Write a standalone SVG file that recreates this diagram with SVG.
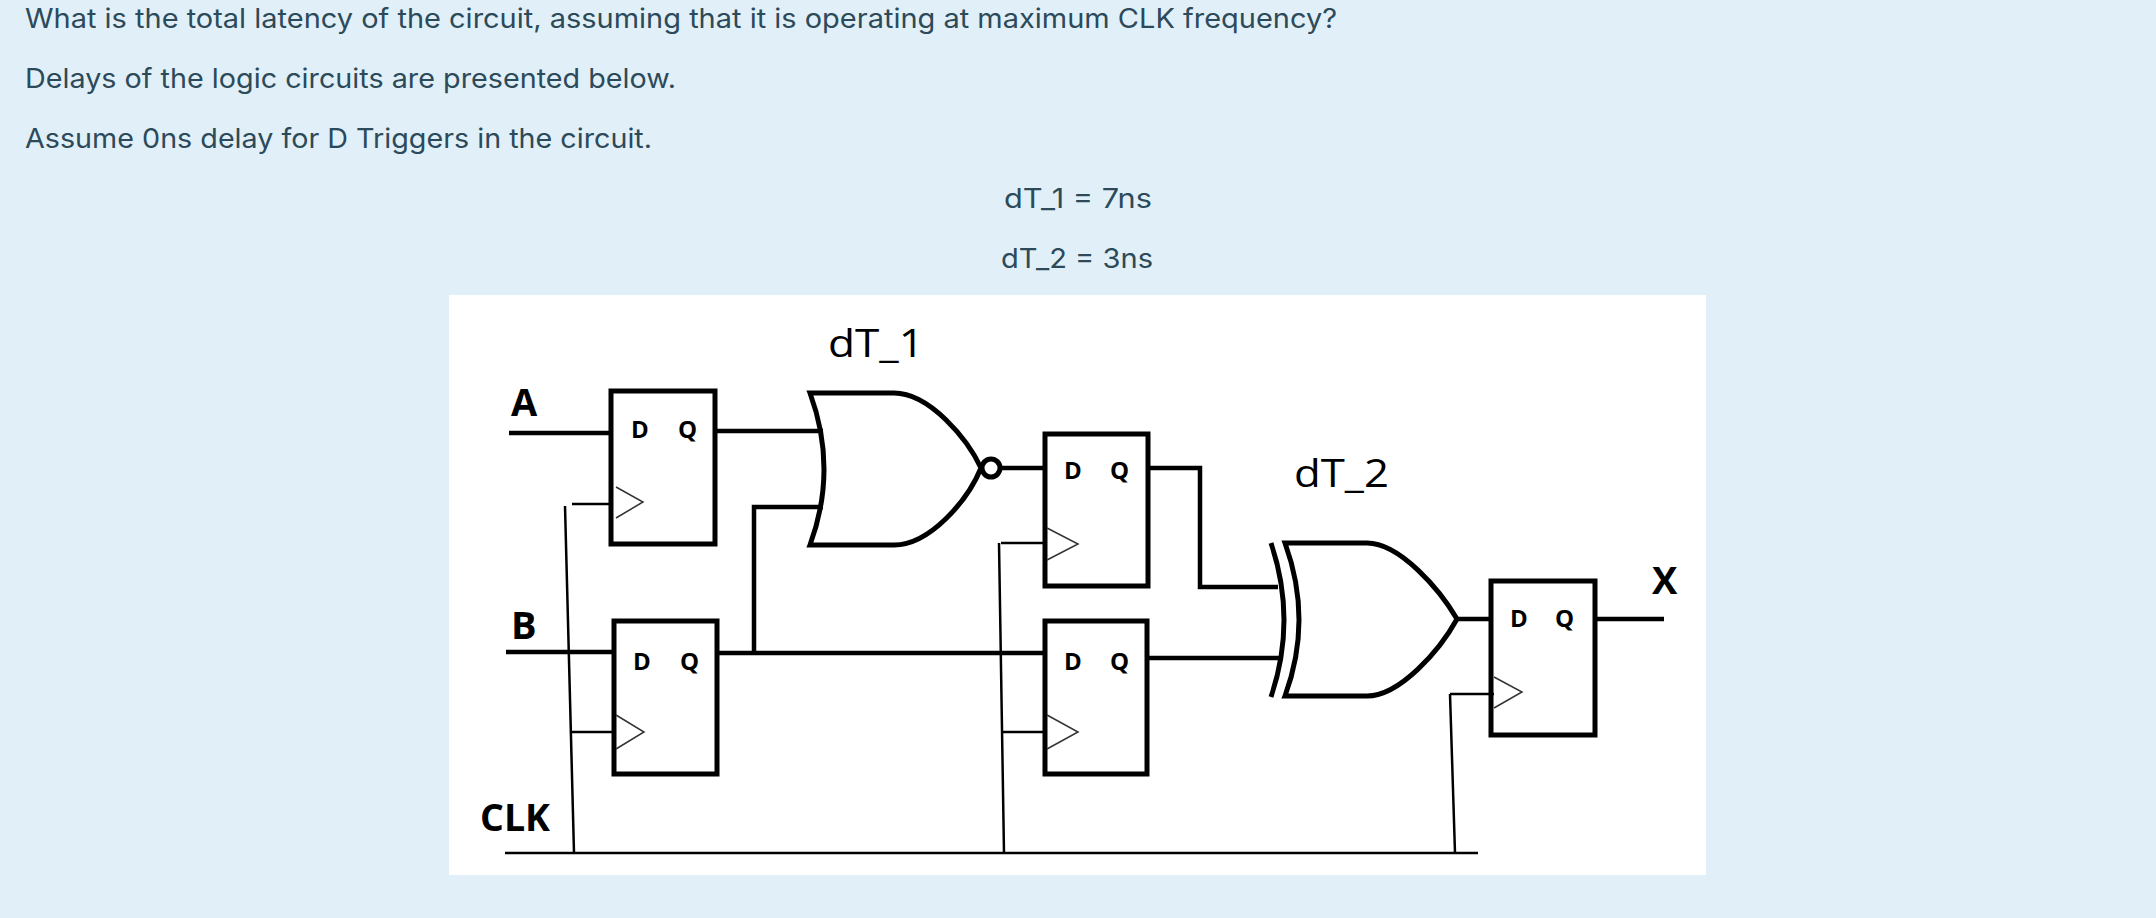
<svg xmlns="http://www.w3.org/2000/svg" width="2156" height="918" viewBox="0 0 2156 918">
<style>
.q{font-family:Inter,"Liberation Sans",sans-serif;font-size:27px;fill:#2c4a5a}
.lbl{font-family:"Open Sans","Liberation Sans",sans-serif;font-size:38px;fill:#000}
.big{font-family:"Open Sans","Liberation Sans",sans-serif;font-weight:bold;font-size:38px;fill:#000}
.dq{font-family:"Open Sans","Liberation Sans",sans-serif;font-weight:bold;font-size:24px;fill:#000}
.ff{fill:none;stroke:#000;stroke-width:5}
.w{fill:none;stroke:#000;stroke-width:4.5}
.thin{fill:none;stroke:#000;stroke-width:2.5}
.tri{fill:none;stroke:#333;stroke-width:1.5}
.g{fill:none;stroke:#000;stroke-width:5}
</style>
<rect width="2156" height="918" fill="#e1f0f8"/>
<text class="q" x="25" y="28" textLength="1312" lengthAdjust="spacingAndGlyphs">What is the total latency of the circuit, assuming that it is operating at maximum CLK frequency?</text>
<text class="q" x="25" y="88" textLength="651" lengthAdjust="spacingAndGlyphs">Delays of the logic circuits are presented below.</text>
<text class="q" x="25" y="148" textLength="627" lengthAdjust="spacingAndGlyphs">Assume 0ns delay for D Triggers in the circuit.</text>
<text class="q" x="1004" y="208" textLength="148" lengthAdjust="spacingAndGlyphs">dT_1 = 7ns</text>
<text class="q" x="1001" y="268" textLength="152" lengthAdjust="spacingAndGlyphs">dT_2 = 3ns</text>
<rect x="449" y="295" width="1257" height="580" fill="#fff"/>
<g id="labels">
<text class="lbl" x="828" y="357" textLength="96" lengthAdjust="spacingAndGlyphs">dT_1</text>
<text class="lbl" x="1294" y="487" textLength="95" lengthAdjust="spacingAndGlyphs">dT_2</text>
<text class="big" x="511" y="416">A</text>
<text class="big" x="511" y="639">B</text>
<text class="big" x="480" y="831" textLength="70" lengthAdjust="spacingAndGlyphs">CLK</text>
<text class="big" x="1652" y="594" font-size="36">X</text>
</g>
<g id="wires">
<path class="w" d="M509 433H611M715 431H823M716 653H1045M754 653V507H823M1001 468H1045M1148 468H1200V587H1278M1148 658H1282M1457 619H1491M1595 619H1664M506 652H613"/>
<path class="thin" d="M505 853H1478M565 506L574 853M572 504H611M572 732H616M999 543L1004 853M1001 543H1047M1001 732H1047M1450 694L1455 853M1450 694H1494"/>
</g>
<g id="ff1"><rect class="ff" x="611" y="391" width="104" height="153"/><text class="dq" x="631" y="438">D</text><text class="dq" x="678" y="438">Q</text><path class="tri" d="M616 487L643 502L616 518"/></g>
<g id="ff2"><rect class="ff" x="614" y="621" width="103" height="153"/><text class="dq" x="633" y="670">D</text><text class="dq" x="680" y="670">Q</text><path class="tri" d="M616 715L644 732L616 749"/></g>
<g id="ff3"><rect class="ff" x="1045" y="434" width="103" height="152"/><text class="dq" x="1064" y="479">D</text><text class="dq" x="1110" y="479">Q</text><path class="tri" d="M1047 528L1078 544L1047 560"/></g>
<g id="ff4"><rect class="ff" x="1045" y="621" width="102" height="153"/><text class="dq" x="1064" y="670">D</text><text class="dq" x="1110" y="670">Q</text><path class="tri" d="M1047 715L1078 732L1047 749"/></g>
<g id="ff5"><rect class="ff" x="1491" y="581" width="104" height="154"/><text class="dq" x="1510" y="627">D</text><text class="dq" x="1555" y="627">Q</text><path class="tri" d="M1494 677L1522 692L1494 708"/></g>
<g id="nor"><path class="g" d="M810 393H894C930 393 968 440 981 468C968 500 930 545 894 545H810Q838 469 810 393Z"/><circle class="g" cx="991" cy="468" r="9" stroke-width="4"/></g>
<g id="xor"><path class="g" d="M1285 543H1367C1400 543 1440 590 1457 619C1440 650 1400 696 1367 696H1285Q1313 620 1285 543Z"/><path class="g" d="M1271 543Q1297 620 1271 697"/></g>
</svg>
